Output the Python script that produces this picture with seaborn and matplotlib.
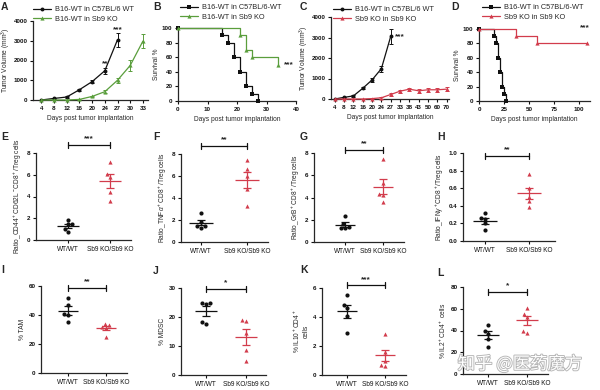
import numpy as np
import matplotlib
matplotlib.use('Agg')
import matplotlib.pyplot as plt
import matplotlib.patheffects as pe
import matplotlib.transforms as mtransforms
import seaborn as sns
import pandas as pd

sns.set_theme(style='ticks')
plt.rcParams['font.family'] = ['Liberation Sans', 'DejaVu Sans']
plt.rcParams['mathtext.fontset'] = 'custom'
plt.rcParams['mathtext.rm'] = 'Liberation Sans'
plt.rcParams['mathtext.it'] = 'Liberation Sans:italic'
plt.rcParams['axes.linewidth'] = 0.9

# ---------------- data ----------------
BLACK = '#111111'
GREEN = '#5a9e3c'
RED = '#d23c4c'

days_A = ['4', '8', '12', '16', '20', '24', '27', '30', '33']
A_wt = [0, 80, 150, 520, 930, 1480, 3050]
A_wt_err = [10, 30, 40, 50, 80, 150, 350]
A_ko = [0, 0, 0, 30, 180, 420, 1000, 1750, 2980]
A_ko_err = [5, 5, 10, 20, 40, 70, 120, 300, 350]

days_C = ['4', '8', '12', '16', '20', '24', '27', '33', '38', '43', '50', '60', '70']
C_wt = [0, 80, 150, 520, 930, 1480, 3050]
C_wt_err = [10, 30, 40, 50, 80, 150, 350]
C_ko = [0, 0, 0, 0, 20, 60, 220, 380, 480, 400, 450, 450, 480]
C_ko_err = [5, 5, 5, 5, 15, 40, 90, 70, 80, 90, 100, 110, 100]

B_wt_t = [0, 15, 17, 19, 21, 23, 25, 27]
B_wt_s = [100, 90, 80, 60, 40, 20, 10, 0]
B_ko_t = [0, 21, 23, 25, 34]
B_ko_s = [100, 90, 70, 60, 50]

D_wt_t = [0, 15, 17, 19, 21, 23, 25, 27]
D_wt_s = [100, 90, 80, 60, 40, 20, 10, 0]
D_ko_t = [0, 37, 58, 108]
D_ko_s = [100, 90, 80, 80]

groups = ['WT/WT', 'Sb9 KO/Sb9 KO']
E_wt = [1.85, 1.5, 1.45, 1.05, 0.75]
E_ko = [7.2, 6.1, 5.8, 4.4, 3.6]
F_wt = [2.6, 1.85, 1.5, 1.45, 1.3]
F_ko = [7.5, 6.6, 6.0, 4.8, 3.3]
G_wt = [2.3, 1.6, 1.35, 1.3, 1.25]
G_ko = [7.5, 5.3, 4.3, 4.2, 3.6]
H_wt = [0.32, 0.26, 0.25, 0.2, 0.12]
H_ko = [0.76, 0.6, 0.5, 0.45, 0.39]
I_wt = [52, 47, 41, 40, 35]
I_ko = [34, 33, 32, 31, 25]
J_wt = [25, 25, 24.5, 18.2, 17.5]
J_ko = [19, 18.5, 14.5, 8.5, 5]
K_wt = [5.5, 4.8, 4.6, 4.1, 2.9]
K_ko = [2.8, 1.6, 1.0, 0.7, 0.65]
L_wt = [45, 40, 37, 32, 25]
L_ko = [61, 55, 52, 40, 38]

# ---------------- figure ----------------
W, H = 600, 390
fig = plt.figure(figsize=(6, 3.9), dpi=100)
fig.patch.set_facecolor('white')

TICK_FS = 4.5
LAB_FS = 4.8


def pax(x0, ytop, x1, ybot):
    return fig.add_axes([x0 / W, 1 - ybot / H, (x1 - x0) / W, (ybot - ytop) / H])


def style(ax, boldx=True):
    sns.despine(ax=ax)
    ax.tick_params(axis='both', length=2.5, width=0.8, pad=1.5, labelsize=TICK_FS,
                   colors=BLACK)
    labs = ax.get_yticklabels() + (ax.get_xticklabels() if boldx else [])
    for lab in labs:
        lab.set_fontweight('bold')
    ax.set_facecolor('none')


def letter(x, y, s):
    fig.text(x / W, 1 - y / H, s, fontsize=7.5, fontweight='bold', va='top', ha='left')


def tumor_panel(ax, days, wt, wterr, ko, koerr, kocol, labels, stars):
    xw = np.arange(len(wt))
    xk = np.arange(len(ko))
    ax.errorbar(xw, wt, yerr=wterr, fmt='none', ecolor=BLACK, elinewidth=0.7,
                capsize=1.5, capthick=0.7, clip_on=False, zorder=3)
    ax.errorbar(xk, ko, yerr=koerr, fmt='none', ecolor=kocol, elinewidth=0.7,
                capsize=1.5, capthick=0.7, clip_on=False, zorder=3)
    sns.lineplot(x=xw, y=wt, ax=ax, color=BLACK, marker='o', markersize=2.8,
                 markeredgewidth=0, linewidth=0.9, label=labels[0], clip_on=False, zorder=4)
    sns.lineplot(x=xk, y=ko, ax=ax, color=kocol, marker='^', markersize=3,
                 markeredgewidth=0, linewidth=0.9, label=labels[1], clip_on=False, zorder=4)
    ax.set_xticks(np.arange(len(days)))
    ax.set_xticklabels(days)
    ax.set_ylim(0, 4000)
    ax.set_yticks([0, 1000, 2000, 3000, 4000])
    ax.set_ylabel('Tumor Volume (mm$^3$)', fontsize=LAB_FS, labelpad=0.5)
    ax.set_xlabel('Days post tumor implantation', fontsize=LAB_FS, labelpad=3)
    for (i, yv, s) in stars:
        ax.text(i, yv, s, fontsize=6, ha='center', va='bottom', fontweight='bold')


def legend(ax, x, y):
    ax.legend(loc='upper left', bbox_to_anchor=(x / W, 1 - y / H),
              bbox_transform=fig.transFigure, frameon=False, fontsize=5.3,
              handlelength=2.4, handletextpad=0.6, labelspacing=0.35,
              borderpad=0, borderaxespad=0)


def surv_panel(ax, t1, s1, t2, s2, col2, labels, xlim, xticks):
    sns.lineplot(x=t1, y=s1, ax=ax, color=BLACK, drawstyle='steps-post',
                 linewidth=0.9, label=labels[0], marker='s', markersize=2.5,
                 markeredgewidth=0, clip_on=False, zorder=4)
    sns.lineplot(x=t2, y=s2, ax=ax, color=col2, drawstyle='steps-post',
                 linewidth=0.9, label=labels[1], marker='^', markersize=3,
                 markeredgewidth=0, clip_on=False, zorder=4)
    ax.set_xlim(*xlim)
    ax.set_ylim(0, 100)
    ax.set_xticks(xticks)
    ax.set_yticks([0, 20, 40, 60, 80, 100])
    ax.set_ylabel('Survival %', fontsize=LAB_FS, labelpad=1.5)
    ax.set_xlabel('Days post tumor implantation', fontsize=LAB_FS, labelpad=3)


# ---- A ----
axA = pax(33, 21, 148, 100)
tumor_panel(axA, days_A, A_wt, A_wt_err, A_ko, A_ko_err, GREEN,
            ['B16-WT in C57BL/6 WT', 'B16-WT in Sb9 KO'],
            [(5, 1650, '**'), (6, 3400, '***')])
axA.set_xlim(-0.65, 8.4)
style(axA)
legend(axA, 33, 6)
letter(1, 2, 'A')

# ---- B ----
axB = pax(178, 28, 296, 101)
surv_panel(axB, B_wt_t, B_wt_s, B_ko_t, B_ko_s, GREEN,
           ['B16-WT in C57BL/6-WT', 'B16-WT in Sb9 KO'], (0, 40), [0, 10, 20, 30, 40])
axB.text(36, 50, '***', fontsize=6, fontweight='bold', va='center', ha='left')
style(axB)
legend(axB, 180, 4)
letter(153, 2, 'B')

# ---- C ----
axC = pax(331, 17, 449, 99)
tumor_panel(axC, days_C, C_wt, C_wt_err, C_ko, C_ko_err, RED,
            ['B16-WT in C57BL/6 WT', 'Sb9 KO in Sb9 KO'],
            [(7.0, 2850, '***')])
axC.set_xlim(-0.4, 12.25)
style(axC)
legend(axC, 333, 6)
letter(300, 2, 'C')

# ---- D ----
axD = pax(479, 29, 590, 101)
surv_panel(axD, D_wt_t, D_wt_s, D_ko_t, D_ko_s, RED,
           ['B16-WT in C57BL/6-WT', 'Sb9 KO in Sb9 KO'], (0, 111), [0, 25, 50, 75, 100])
axD.text(106, 97, '***', fontsize=6, fontweight='bold', va='bottom', ha='center')
style(axD)
legend(axD, 482, 4)
letter(451, 2, 'D')


# ---- dot plots ----
def dot_panel(yaxis_px, wt_px, spacing, ytop, ybot, right, wt, ko, ylim, yticks,
              ylabel, stars, bracket_frac, let, let_xy):
    left = (yaxis_px - wt_px) / spacing
    x1 = wt_px + right * spacing
    ax = pax(yaxis_px, ytop, x1, ybot)
    df = pd.DataFrame({'group': [groups[0]] * len(wt) + [groups[1]] * len(ko),
                       'value': wt + ko})
    sns.swarmplot(data=df[df.group == groups[0]], x='group', y='value', order=groups,
                  color=BLACK, marker='o', size=3.0, linewidth=0, ax=ax, zorder=3)
    sns.swarmplot(data=df[df.group == groups[1]], x='group', y='value', order=groups,
                  color=RED, marker='^', size=3.0, linewidth=0, ax=ax, zorder=3)
    for i, (vals, col) in enumerate([(wt, BLACK), (ko, RED)]):
        m = np.mean(vals)
        sem = np.std(vals, ddof=1) / np.sqrt(len(vals))
        ax.hlines(m, i - 0.27, i + 0.27, color=col, linewidth=0.9, zorder=4)
        ax.errorbar([i], [m], yerr=[sem], fmt='none', ecolor=col, elinewidth=0.9,
                    capsize=3.2, capthick=0.9, zorder=4)
    ax.set_xlim(left, right)
    ax.set_ylim(*ylim)
    ax.set_yticks(yticks)
    ax.set_xlabel('')
    ax.set_ylabel(ylabel, fontsize=LAB_FS, labelpad=2)
    trans = mtransforms.blended_transform_factory(ax.transData, ax.transAxes)
    ax.plot([0, 1], [bracket_frac, bracket_frac], color=BLACK, lw=0.9, transform=trans,
            clip_on=False)
    for xx in (0, 1):
        ax.plot([xx, xx], [bracket_frac - 0.035, bracket_frac + 0.035], color=BLACK,
                lw=0.9, transform=trans, clip_on=False)
    ax.text(0.5, bracket_frac + 0.03, stars, fontsize=6, fontweight='bold', ha='center',
            va='bottom', transform=trans)
    style(ax, boldx=False)
    ax.tick_params(axis='x', labelsize=TICK_FS + 0.2)
    letter(let_xy[0], let_xy[1], let)
    return ax


dot_panel(36, 68, 42, 153, 240, 1.5, E_wt, E_ko, (0, 8), [0, 2, 4, 6, 8],
          'Ratio_CD44$^+$CD62L$^-$CD8$^+$/Treg cells', '***', 1.09, 'E', (1, 132))
dot_panel(181, 201, 46, 154, 242, 1.45, F_wt, F_ko, (0, 8), [0, 2, 4, 6, 8],
          r'Ratio_TNF$\alpha^+$CD8$^+$/Treg cells', '**', 1.09, 'F', (153, 132))
dot_panel(314, 345, 38, 153, 242, 1.55, G_wt, G_ko, (0, 8), [0, 2, 4, 6, 8],
          'Ratio_GrB$^+$CD8$^+$/Treg cells', '**', 1.03, 'G', (300, 132))
axH = dot_panel(463, 485, 44, 153, 241, 1.6, H_wt, H_ko, (0, 1.0),
                [0, 0.2, 0.4, 0.6, 0.8, 1.0],
                r'Ratio_IFN$\gamma^+$CD8$^+$/Treg cells', '**', 0.97, 'H', (437, 132))
axH.set_yticklabels(['0.0', '0.2', '0.4', '0.6', '0.8', '1.0'], fontweight='bold')

dot_panel(41, 68, 38, 286, 373, 1.55, I_wt, I_ko, (0, 60), [0, 20, 40, 60],
          '% TAM', '**', 0.98, 'I', (1, 265))
dot_panel(181, 206, 40, 288, 375, 1.5, J_wt, J_ko, (0, 30), [0, 10, 20, 30],
          '% MDSC', '*', 0.99, 'J', (153, 266))
dot_panel(322, 347, 38, 288, 375, 1.55, K_wt, K_ko, (0, 6), [0, 2, 4, 6],
          '% IL10$^+$CD4$^+$\ncells', '***', 1.03, 'K', (300, 265))
dot_panel(463, 488, 39, 287, 374, 1.55, L_wt, L_ko, (0, 80), [0, 20, 40, 60, 80],
          '% IL2$^+$CD4$^+$ cells', '*', 0.94, 'L', (437, 268))

# watermark
fig.text(520 / W, 1 - 364 / H, '知乎 @医药魔方', fontsize=12.5, color='white',
         family=['Noto Sans CJK SC', 'DejaVu Sans'], ha='center', va='center',
         path_effects=[pe.withStroke(linewidth=1.3, foreground='#b5b5b5')], zorder=10)

fig.savefig('out.png', dpi=100, facecolor='white')
